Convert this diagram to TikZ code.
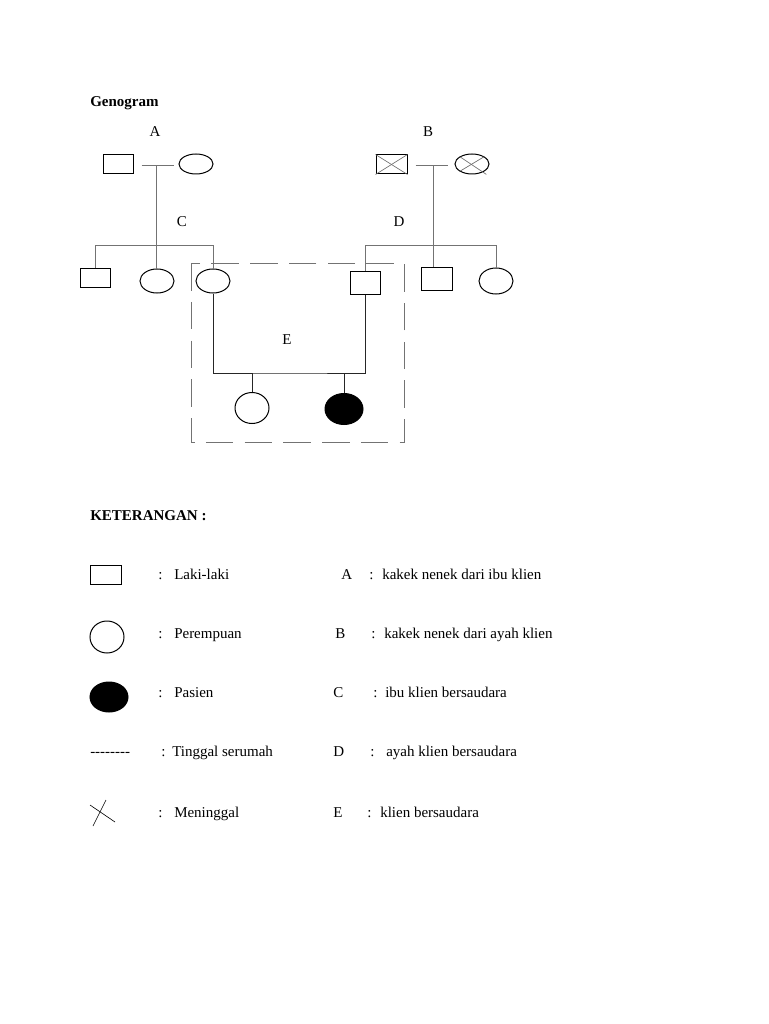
\documentclass[tikz,border=0pt]{standalone}
\usepackage{fontspec}
\setmainfont{Liberation Serif}
\usetikzlibrary{calc,shapes.geometric}
\tikzset{
	male/.style={draw, rectangle, inner sep=0pt, line width=0.8pt},
	female/.style={draw, ellipse, inner sep=0pt, line width=0.8pt},
	patient/.style={female, fill=black},
	link/.style={draw=black!55, line width=0.7pt},
	house/.style={draw=black!55, line width=0.7pt, dash pattern=on 22pt off 9pt},
	lbl/.style={inner sep=0pt, anchor=base},
	txt/.style={inner sep=0pt, anchor=base west}
}

\begin{document}
\begin{tikzpicture}[x=0.8pt, y=-0.8pt, font=\fontsize{12}{14}\selectfont]
			%%%%% START %%%%%
			\useasboundingbox (0, 0) rectangle (768, 1024);
			
			\node[txt, font=\fontsize{12}{14}\selectfont\bfseries] (title) at (90, 107) {Genogram};
			
			\node[lbl] (labA) at (155, 137) {A};
			\node[lbl] (labB) at (428, 137) {B};
			\node[lbl] (labC) at (182, 226) {C};
			\node[lbl] (labD) at (399, 226) {D};
			\node[lbl] (labE) at (287, 344) {E};
			
			% kakek nenek
			\node[male, minimum width=24pt, minimum height=15.2pt] (a1) at (118, 164.5) {};
			\node[female, minimum width=27.2pt, minimum height=16pt] (a2) at (196, 164) {};
			\node[male, minimum width=24.8pt, minimum height=15.2pt] (b1) at (391.5, 164.5) {};
			\node[female, minimum width=27.2pt, minimum height=16pt] (b2) at (472, 164) {};
			\draw[black!60, line width=0.5pt] (b1.north west) -- (b1.south east);
			\draw[black!60, line width=0.5pt] (b1.south west) -- (b1.north east);
			\draw[black!60, line width=0.5pt] (b2.north west) -- ($(b2.south east)+(2, 3)$);
			\draw[black!60, line width=0.5pt] (b2.south west) -- (b2.north east);
			
			% anak
			\node[male, minimum width=24pt, minimum height=15.2pt] (c1) at (95, 277.5) {};
			\node[female, minimum width=27.2pt, minimum height=19.2pt] (c2) at (157, 281) {};
			\node[female, minimum width=27.2pt, minimum height=19.2pt] (c3) at (213, 281) {};
			\node[male, minimum width=24pt, minimum height=18.4pt] (d1) at (365, 282.5) {};
			\node[male, minimum width=24.8pt, minimum height=18.4pt] (d2) at (436.5, 278.5) {};
			\node[female, minimum width=27.2pt, minimum height=20.8pt] (d3) at (496, 281) {};
			
			% cucu
			\node[female, minimum width=27.2pt, minimum height=24.8pt] (e1) at (252, 408) {};
			\node[patient, minimum width=30.4pt, minimum height=24.8pt] (e2) at (344, 409) {};
			
			\coordinate (ma) at ($(a1.east)!0.5!(a2.west)+(0, 1.5)$);
			\coordinate (mb) at ($(b1.east)!0.5!(b2.west)+(2, 1.5)$);
			\coordinate (sa) at ($(ma)+(0, 80)$);
			\coordinate (sb) at ($(mb)+(0, 80)$);
			\coordinate (se) at (290, 373);
			
			\draw[link] ($(a1.east |- ma)+(8, 0)$) -- ($(a2.west |- ma)+(-5, 0)$);
			\draw[link] (ma) -- (ma |- c2.north);
			\draw[link] (c1.north) |- (sa) -| (c3.north);
			
			\draw[link] ($(b1.east |- mb)+(8, 0)$) -- ($(b2.west |- mb)+(-7, 0)$);
			\draw[link] (mb) -- (mb |- d2.north);
			\draw[link] (d1.north) |- (sb) -| (d3.north);
			
			\draw[black!85, line width=0.7pt] (c3.south) |- (se) -| (d1.south);
			\draw[black!85, line width=0.7pt] (e1.north) -- (e1.north |- se);
			\draw[black!85, line width=0.7pt] (e2.north) -- (e2.north |- se);
			
			\draw[house] (191, 263) rectangle (404, 442);
			
			%%%%% KETERANGAN %%%%%
			\node[txt, font=\fontsize{12}{14}\selectfont\bfseries] (ket) at (90, 520) {KETERANGAN :};
			
			\node[male, minimum width=24.8pt, minimum height=15.2pt] (legM) at (105.5, 574.5) {};
			\node[female, minimum width=27.2pt, minimum height=25.6pt] (legF) at (107, 637) {};
			\node[patient, minimum width=30.4pt, minimum height=24pt] (legP) at (109, 697) {};
			\node[txt] (legH) at (90, 756) {{-}{-}{-}{-}{-}{-}{-}{-}};
			\draw[line width=0.5pt] (90, 805) -- (115, 822);
			\draw[line width=0.5pt] (106, 800) -- (93, 826);
			
			\node[txt] at (158, 579) {:};
			\node[txt] at (174, 579) {Laki-laki};
			\node[txt] at (158, 638) {:};
			\node[txt] at (174, 638) {Perempuan};
			\node[txt] at (158, 697) {:};
			\node[txt] at (174, 697) {Pasien};
			\node[txt] at (161, 756) {:};
			\node[txt] at (172, 756) {Tinggal serumah};
			\node[txt] at (158, 817) {:};
			\node[txt] at (174, 817) {Meninggal};
			
			\node[txt] at (341, 579) {A};
			\node[txt] at (369, 579) {:};
			\node[txt] at (382, 579) {kakek nenek dari ibu klien};
			\node[txt] at (335, 638) {B};
			\node[txt] at (371, 638) {:};
			\node[txt] at (384, 638) {kakek nenek dari ayah klien};
			\node[txt] at (333, 697) {C};
			\node[txt] at (373, 697) {:};
			\node[txt] at (385, 697) {ibu klien bersaudara};
			\node[txt] at (333, 756) {D};
			\node[txt] at (370, 756) {:};
			\node[txt] at (386, 756) {ayah klien bersaudara};
			\node[txt] at (333, 817) {E};
			\node[txt] at (367, 817) {:};
			\node[txt] at (380, 817) {klien bersaudara};
			
			%%%%% END %%%%%
		\end{tikzpicture}
\end{document}
